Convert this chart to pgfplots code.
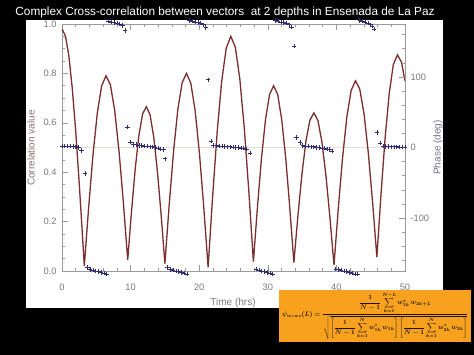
\documentclass[border=0pt]{standalone}
\usepackage{pgfplots}
\pgfplotsset{compat=1.18}
\usepackage{amsmath}
\usepackage{graphicx}
\usepackage{fontspec}
\setmainfont{Liberation Sans}
\definecolor{curvecol}{HTML}{7B2E2E}
\definecolor{markcol}{HTML}{2E2E70}
\definecolor{boxorange}{HTML}{F7A11E}
\definecolor{labgray}{HTML}{7A7A7A}
\definecolor{axgray}{HTML}{9A9A9A}
\definecolor{corrlab}{HTML}{8A7272}
\definecolor{phaselab}{HTML}{76768F}
\definecolor{faint}{HTML}{E6DED6}
\begin{document}
\begin{tikzpicture}[x=1pt,y=1pt]
\useasboundingbox (0,0) rectangle (474,355);
\fill[black] (0,0) rectangle (474,355);
\fill[white] (26,47) rectangle (443,335);
\pgfplotsset{
  mybase/.style={
    at={(62pt,84pt)}, anchor=south west, scale only axis,
    width=343pt, height=247pt,
    xmin=0, xmax=50,
    tick align=inside,
    axis line style={axgray, line width=0.5pt},
    tick style={axgray, line width=0.5pt},
    major tick length=6pt, minor tick length=3pt,
    /pgf/number format/assume math mode=true,
    ticklabel style={font=\fontsize{9.3}{10}\selectfont, text=labgray},
  }
}
\begin{axis}[mybase,
  ymin=0, ymax=1,
  xtick={0,10,20,30,40,50}, minor x tick num=4,
  ytick={0,0.2,0.4,0.6,0.8,1.0}, minor y tick num=3,
  xtick pos=both, ytick pos=left, xticklabel pos=lower,
  yticklabel style={/pgf/number format/fixed, /pgf/number format/fixed zerofill, /pgf/number format/precision=1, xshift=-2pt},
  xticklabel style={yshift=-9pt},
]
\addplot[faint, line width=0.6pt] coordinates {(0,0.5) (50,0.5)};
\addplot[curvecol, line width=1.3pt] coordinates {
(0,0.98) (0.5,0.952) (1.0,0.871) (1.5,0.739) (2.0,0.566) (2.5,0.360) (3.0,0.136) (3.25,0.02)
(3.883,0.257) (4.516,0.470) (5.149,0.640) (5.782,0.750) (6.415,0.790) (7.048,0.755) (7.681,0.650) (8.314,0.485) (8.947,0.277) (9.58,0.045)
(10.122,0.237) (10.664,0.411) (11.206,0.548) (11.748,0.636) (12.29,0.665) (12.832,0.633) (13.374,0.542) (13.916,0.402) (14.458,0.225) (15.0,0.030)
(15.63,0.269) (16.26,0.484) (16.89,0.655) (17.52,0.763) (18.15,0.800) (18.78,0.760) (19.41,0.649) (20.04,0.475) (20.67,0.257) (21.3,0.015)
(21.96,0.303) (22.62,0.563) (23.28,0.769) (23.94,0.902) (24.6,0.950) (25.26,0.907) (25.92,0.778) (26.58,0.576) (27.24,0.321) (27.9,0.038)
(28.49,0.258) (29.08,0.457) (29.67,0.614) (30.26,0.715) (30.85,0.750) (31.44,0.715) (32.03,0.613) (32.62,0.455) (33.21,0.255) (33.8,0.034)
(34.385,0.222) (34.97,0.391) (35.555,0.525) (36.14,0.611) (36.725,0.640) (37.31,0.609) (37.895,0.521) (38.48,0.385) (39.065,0.214) (39.65,0.024)
(40.275,0.253) (40.9,0.459) (41.525,0.624) (42.15,0.731) (42.775,0.770) (43.4,0.737) (44.025,0.637) (44.65,0.479) (45.275,0.279) (45.9,0.056)
(46.5,0.309) (47.1,0.538) (47.7,0.719) (48.3,0.836) (48.9,0.875) (49.5,0.845) (50.0,0.77)
};
\end{axis}
\begin{axis}[mybase,
  ymin=-175, ymax=175,
  hide x axis, axis y line*=right,
  ytick={-100,0,100}, minor ytick={-160,-140,-120,-80,-60,-40,-20,20,40,60,80,120,140,160},
  yticklabel style={xshift=2pt},
  clip=false,
]
\addplot[only marks, mark=+, mark size=2.2pt, markcol, mark options={line width=0.6pt}] coordinates {
(0,2)(0.4,2)(0.8,2)(1.2,2)(1.6,1.5)(2.0,1)(2.4,0)(2.85,-4)(3.35,-37)(3.7,-170)
(4.1,-173)(4.5,-174)(4.9,-175)(5.3,-176)(5.7,-177)(6.1,-178)(6.5,-179)
(6.8,179)(7.2,178)(7.6,177)(8.0,176)(8.4,175)(8.8,173)(9.2,166)
(9.52,29)(10.0,8)(10.4,4)(10.8,4)(11.2,3)(11.6,3)(12.0,2)(12.4,2)(12.8,1)(13.2,1)(13.6,0)(14.0,-1)(14.4,-2)(14.77,-3)(15.0,-16)
(15.4,-170)(15.8,-173)(16.2,-174)(16.6,-175)(17.0,-176)(17.4,-177)(17.8,-178)(18.2,-179)
(18.6,180)(19.0,179)(19.4,178)(19.8,177)(20.2,176)(20.6,174)(20.95,170)(21.3,96)(21.7,9)
(22.1,3)(22.5,2.5)(22.9,2)(23.3,2)(23.7,1.5)(24.1,1)(24.5,1)(24.9,0.5)(25.3,0)(25.7,0)(26.1,-0.5)(26.5,-1)(26.9,-2)(27.4,-8)
(28.3,-172)(28.7,-174)(29.1,-175)(29.5,-176)(29.9,-177)(30.3,-178)(30.7,-179)
(31.1,180)(31.5,179)(31.9,178)(32.3,177)(32.7,176)(33.1,174)(33.45,171)(33.8,144)(34.2,14)(34.7,7)
(35.1,3)(35.5,2)(35.9,2)(36.3,1)(36.7,1)(37.1,0)(37.5,0)(37.9,-0.5)(38.3,-1)(38.7,-2)(39.0,-3)(39.35,-5)
(39.9,-172)(40.3,-173)(40.7,-174)(41.1,-175)(41.5,-176)(41.9,-177)(42.3,-178)(42.7,-179)(43.1,-179.5)
(43.4,180)(43.8,179)(44.2,178)(44.6,176)(44.9,174)(45.2,172)(45.5,168)(45.9,21)(46.35,6)
(46.8,2)(47.2,1.5)(47.6,1.5)(48.0,1)(48.4,1)(48.8,1)(49.2,0.5)(49.6,0.5)(50.0,0.5)
};
\end{axis}
\node[text=white, font=\fontsize{11.8}{13}\selectfont] at (225,343) {Complex Cross-correlation between vectors\ \ at 2 depths in Ensenada de La Paz};
\node[rotate=90, text=corrlab, font=\fontsize{10}{11}\selectfont] at (31,207) {Correlation value};
\node[rotate=90, text=phaselab, font=\fontsize{10}{11}\selectfont] at (438,207.5) {Phase (deg)};
\node[text=labgray, font=\fontsize{10}{11}\selectfont] at (233,52) {Time (hrs)};
\fill[boxorange] (279,13) rectangle (471,65);
\node[text=black!85!brown, inner sep=0pt] at (375,39) {\resizebox*{186pt}{47pt}{\boldmath$\psi_{w_1w_2}(L)=\dfrac{\dfrac{1}{N-1}\displaystyle\sum_{k=1}^{N-L} w^{*}_{1k}\,w_{2k+L}}{\sqrt{\left[\dfrac{1}{N-1}\displaystyle\sum_{k=1}^{N} w^{*}_{1k}\,w_{1k}\right]\left[\dfrac{1}{N-1}\displaystyle\sum_{k=1}^{N} w^{*}_{2k}\,w_{2k}\right]}}$}};
\end{tikzpicture}
\end{document}
